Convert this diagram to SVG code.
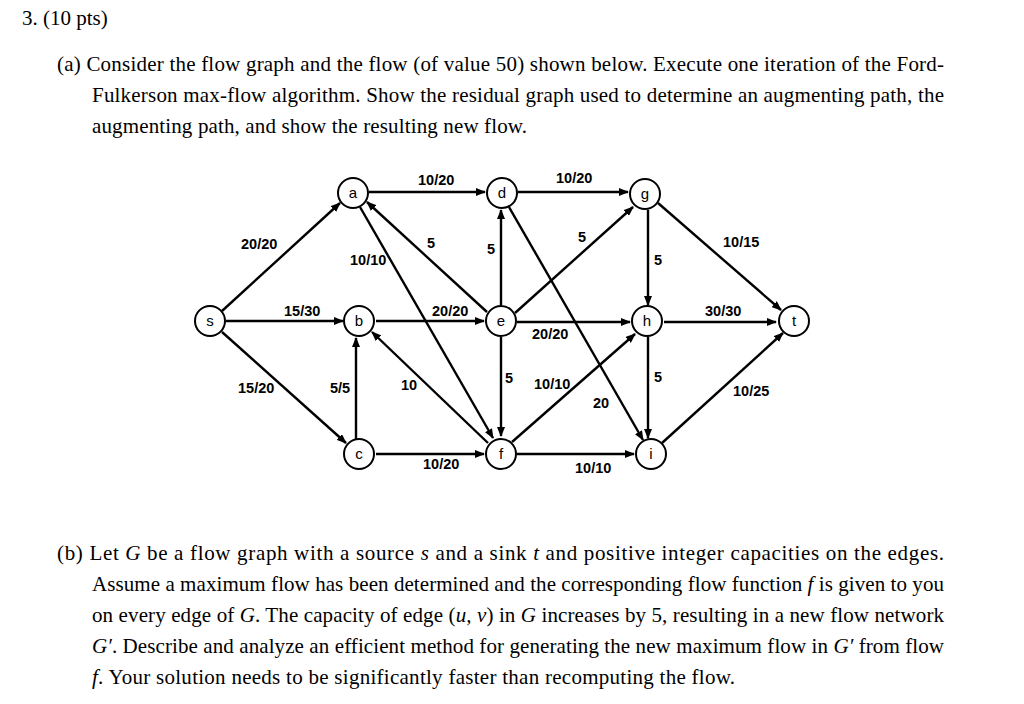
<svg xmlns="http://www.w3.org/2000/svg" width="1024" height="704" viewBox="0 0 1024 704">
<style>
.t{font-family:"Liberation Serif",serif;font-size:21px;fill:#000}
.n circle{fill:#fff;stroke:#000;stroke-width:2}
.n text{font-family:"Liberation Sans",Arial,sans-serif;font-size:15px;text-anchor:middle;fill:#000}
.e line{stroke:#000;stroke-width:2.4;marker-end:url(#ah)}
.l{font-family:"Liberation Sans",Arial,sans-serif;font-size:14.5px;font-weight:bold;fill:#000}
</style>
<defs><marker id="ah" markerWidth="10" markerHeight="8" refX="9" refY="4" orient="auto" markerUnits="userSpaceOnUse"><path d="M0,0L10,4L0,8z" fill="#000"/></marker></defs>
<rect width="1024" height="704" fill="#fff"/>
<text class="t" x="22" y="25">3. (10 pts)</text>
<text class="t" x="57" y="71" textLength="887" lengthAdjust="spacing">(a) Consider the flow graph and the flow (of value 50) shown below. Execute one iteration of the Ford-</text>
<text class="t" x="92" y="102" textLength="852" lengthAdjust="spacing">Fulkerson max-flow algorithm. Show the residual graph used to determine an augmenting path, the</text>
<text class="t" x="92" y="133" textLength="435" lengthAdjust="spacing">augmenting path, and show the resulting new flow.</text>
<text class="t" x="57" y="560" textLength="887" lengthAdjust="spacing">(b) Let <tspan font-style="italic">G</tspan> be a flow graph with a source <tspan font-style="italic">s</tspan> and a sink <tspan font-style="italic">t</tspan> and positive integer capacities on the edges.</text>
<text class="t" x="92" y="591" textLength="852" lengthAdjust="spacing">Assume a maximum flow has been determined and the corresponding flow function <tspan font-style="italic">f</tspan> is given to you</text>
<text class="t" x="92" y="622" textLength="852" lengthAdjust="spacing">on every edge of <tspan font-style="italic">G</tspan>. The capacity of edge (<tspan font-style="italic">u, v</tspan>) in <tspan font-style="italic">G</tspan> increases by 5, resulting in a new flow network</text>
<text class="t" x="92" y="653" textLength="852" lengthAdjust="spacing"><tspan font-style="italic">G′</tspan>. Describe and analyze an efficient method for generating the new maximum flow in <tspan font-style="italic">G′</tspan> from flow</text>
<text class="t" x="92" y="684" textLength="643" lengthAdjust="spacing"><tspan font-style="italic">f</tspan>. Your solution needs to be significantly faster than recomputing the flow.</text>
<g class="e" id="edges">
<line x1="222" y1="311" x2="340" y2="203"/>
<line x1="226" y1="321" x2="343" y2="321"/>
<line x1="222" y1="332" x2="346" y2="443"/>
<line x1="369" y1="192" x2="485" y2="192"/>
<line x1="360" y1="207" x2="493" y2="438"/>
<line x1="487" y1="312" x2="367" y2="202"/>
<line x1="501" y1="305" x2="501" y2="210"/>
<line x1="376" y1="321" x2="484" y2="321"/>
<line x1="356" y1="439" x2="356" y2="338"/>
<line x1="488" y1="443" x2="372" y2="332"/>
<line x1="376" y1="454" x2="484" y2="454"/>
<line x1="501" y1="337" x2="501" y2="436"/>
<line x1="518" y1="192" x2="628" y2="192"/>
<line x1="515" y1="313" x2="633" y2="207"/>
<line x1="509" y1="207" x2="643" y2="440"/>
<line x1="517" y1="322" x2="630" y2="322"/>
<line x1="512" y1="442" x2="635" y2="334"/>
<line x1="517" y1="454" x2="634" y2="454"/>
<line x1="648" y1="210" x2="648" y2="305"/>
<line x1="648" y1="337" x2="648" y2="438"/>
<line x1="658" y1="203" x2="781" y2="310"/>
<line x1="664" y1="322" x2="776" y2="322"/>
<line x1="662" y1="443" x2="783" y2="333"/>
</g>
<g id="n-s" class="n"><circle cx="210" cy="321" r="15"/><text x="210" y="326">s</text></g>
<g id="n-a" class="n"><circle cx="353" cy="193" r="15"/><text x="353" y="198">a</text></g>
<g id="n-b" class="n"><circle cx="359" cy="321" r="15"/><text x="359" y="326">b</text></g>
<g id="n-c" class="n"><circle cx="359" cy="454" r="15"/><text x="359" y="459">c</text></g>
<g id="n-d" class="n"><circle cx="502" cy="193" r="15"/><text x="502" y="198">d</text></g>
<g id="n-e" class="n"><circle cx="501" cy="321" r="15"/><text x="501" y="326">e</text></g>
<g id="n-f" class="n"><circle cx="501" cy="454" r="15"/><text x="501" y="459">f</text></g>
<g id="n-g" class="n"><circle cx="645" cy="194" r="15"/><text x="645" y="199">g</text></g>
<g id="n-h" class="n"><circle cx="647" cy="321" r="15"/><text x="647" y="326">h</text></g>
<g id="n-i" class="n"><circle cx="651" cy="454" r="15"/><text x="651" y="459">i</text></g>
<g id="n-t" class="n"><circle cx="794" cy="321" r="15"/><text x="794" y="326">t</text></g>
<g id="labels">
<text class="l" x="241" y="249">20/20</text>
<text class="l" x="284" y="316">15/30</text>
<text class="l" x="238" y="393">15/20</text>
<text class="l" x="418" y="185">10/20</text>
<text class="l" x="350" y="265">10/10</text>
<text class="l" x="427" y="248">5</text>
<text class="l" x="487" y="254">5</text>
<text class="l" x="432" y="316">20/20</text>
<text class="l" x="330" y="393">5/5</text>
<text class="l" x="401" y="390">10</text>
<text class="l" x="423" y="469">10/20</text>
<text class="l" x="505" y="383">5</text>
<text class="l" x="556" y="183">10/20</text>
<text class="l" x="578" y="242">5</text>
<text class="l" x="532" y="339">20/20</text>
<text class="l" x="534" y="389">10/10</text>
<text class="l" x="593" y="408">20</text>
<text class="l" x="575" y="473">10/10</text>
<text class="l" x="654" y="265">5</text>
<text class="l" x="654" y="382">5</text>
<text class="l" x="723" y="247">10/15</text>
<text class="l" x="705" y="316">30/30</text>
<text class="l" x="733" y="396">10/25</text>
</g>
</svg>
